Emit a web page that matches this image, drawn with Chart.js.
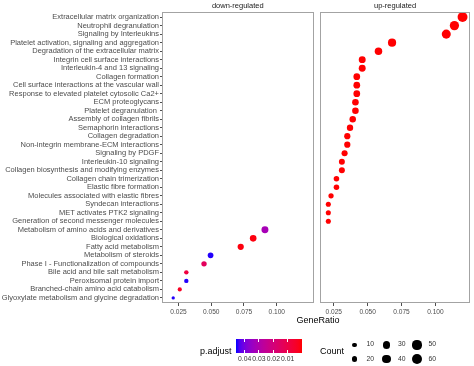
<!DOCTYPE html>
<html>
<head>
<meta charset="utf-8">
<script src="https://cdn.jsdelivr.net/npm/chart.js@4.4.1/dist/chart.umd.min.js"></script>
<style>
  html, body { margin:0; padding:0; background:#fff; }
  body { width:474px; height:366px; position:relative; overflow:hidden; font-family:"Liberation Sans", Arial, sans-serif; }
  canvas { position:absolute; top:0; }
  .t { position:absolute; white-space:nowrap; line-height:1; }
</style>
</head>
<body>
<canvas id="cDown" width="316" height="318" style="left:0"></canvas>
<canvas id="cUp" width="158" height="318" style="left:316px"></canvas>
<div id="legend"></div>
<script>
// ---------------- data ----------------
const categories = [
  "Extracellular matrix organization",
  "Neutrophil degranulation",
  "Signaling by Interleukins",
  "Platelet activation, signaling and aggregation",
  "Degradation of the extracellular matrix",
  "Integrin cell surface interactions",
  "Interleukin-4 and 13 signaling",
  "Collagen formation",
  "Cell surface interactions at the vascular wall",
  "Response to elevated platelet cytosolic Ca2+",
  "ECM proteoglycans",
  "Platelet degranulation ",
  "Assembly of collagen fibrils",
  "Semaphorin interactions",
  "Collagen degradation",
  "Non-integrin membrane-ECM interactions",
  "Signaling by PDGF",
  "Interleukin-10 signaling",
  "Collagen biosynthesis and modifying enzymes",
  "Collagen chain trimerization",
  "Elastic fibre formation",
  "Molecules associated with elastic fibres",
  "Syndecan interactions",
  "MET activates PTK2 signaling",
  "Generation of second messenger molecules",
  "Metabolism of amino acids and derivatives",
  "Biological oxidations",
  "Fatty acid metabolism",
  "Metabolism of steroids",
  "Phase I - Functionalization of compounds",
  "Bile acid and bile salt metabolism",
  "Peroxisomal protein import",
  "Branched-chain amino acid catabolism",
  "Glyoxylate metabolism and glycine degradation"
];
const panelTitles = ["down-regulated", "up-regulated"];

// up-regulated: categories 1..25
const upRatio = [0.120,0.114,0.108,0.068,0.058,0.046,0.046,0.042,0.042,0.042,0.041,0.041,0.039,0.037,0.035,0.035,0.033,0.031,0.031,0.027,0.027,0.023,0.021,0.021,0.021];
const upCount = [60,52,50,40,33,28,28,26,26,26,25,25,24,23,22,22,21,20,20,17,17,15,14,14,14];
const upPadj  = [0.0001,0.0001,0.0001,0.0001,0.0001,0.0001,0.0001,0.0001,0.0001,0.0001,0.0001,0.0001,0.0001,0.0001,0.0001,0.0001,0.0001,0.0001,0.0001,0.0001,0.0001,0.0001,0.0001,0.0001,0.0001];

// down-regulated: categories 26..34
const downRatio = [0.091,0.082,0.0725,0.0495,0.0445,0.031,0.031,0.026,0.021];
const downCount = [28,25,22,18,16,10,10,9,5];
const downPadj  = [0.032,0.001,0.001,0.0455,0.0138,0.0083,0.0455,0.0037,0.0455];

const xTicks = [0.025, 0.050, 0.075, 0.100];
const xTickLabels = ["0.025", "0.050", "0.075", "0.100"];
const pBreaks = [0.04, 0.03, 0.02, 0.01];
const pBreakLabels = ["0.04", "0.03", "0.02", "0.01"];
const countBreaks = [10, 20, 30, 40, 50, 60];

// ---------------- helpers ----------------
const FONT = "Liberation Sans";
const P_MIN = 0, P_MAX = 0.046;
function lin(c){ c/=255; return c<=0.04045? c/12.92 : Math.pow((c+0.055)/1.055,2.4); }
function unlin(c){ c = c<=0.0031308? 12.92*c : 1.055*Math.pow(c,1/2.4)-0.055; return Math.round(Math.max(0,Math.min(1,c))*255); }
function toLab(rgb){
  const r=lin(rgb[0]), g=lin(rgb[1]), b=lin(rgb[2]);
  let X=(0.4124*r+0.3576*g+0.1805*b)/0.95047, Y=(0.2126*r+0.7152*g+0.0722*b), Z=(0.0193*r+0.1192*g+0.9505*b)/1.08883;
  const f=t=> t>0.008856? Math.cbrt(t) : 7.787*t+16/116;
  const fx=f(X), fy=f(Y), fz=f(Z);
  return [116*fy-16, 500*(fx-fy), 200*(fy-fz)];
}
function fromLab(lab){
  const fy=(lab[0]+16)/116, fx=fy+lab[1]/500, fz=fy-lab[2]/200;
  const fi=t=> t*t*t>0.008856? t*t*t : (t-16/116)/7.787;
  const X=0.95047*fi(fx), Y=fi(fy), Z=1.08883*fi(fz);
  const r=3.2406*X-1.5372*Y-0.4986*Z, g=-0.9689*X+1.8758*Y+0.0415*Z, b=0.0557*X-0.2040*Y+1.0570*Z;
  return [unlin(r),unlin(g),unlin(b)];
}
const LAB_RED = toLab([255,0,0]), LAB_BLUE = toLab([0,0,255]);
function pColor(p){
  const t = Math.max(0, Math.min(1, (p-P_MIN)/(P_MAX-P_MIN)));
  const lab = LAB_RED.map((v,i)=> v + (LAB_BLUE[i]-v)*t);
  const c = fromLab(lab);
  return `rgb(${c[0]},${c[1]},${c[2]})`;
}
function sizeR(count){ return (1.2*Math.sqrt(count) + 0.6)/2; }

const panelBorder = {
  id:'panelBorder',
  afterDraw(chart){
    const a = chart.chartArea, ctx = chart.ctx;
    ctx.save();
    ctx.strokeStyle = '#a3a3a3';
    ctx.lineWidth = 1;
    ctx.strokeRect(Math.round(a.left)-0.5, Math.round(a.top)+0.5, Math.round(a.right-a.left)+1, Math.round(a.bottom-a.top)-1);
    ctx.restore();
  }
};

function makeChart(id, title, ratios, counts, padj, offset, xmin, xmax, showY, pad){
  const pts = ratios.map((v,i)=>({x:v, y:offset+i}));
  return new Chart(document.getElementById(id), {
    type:'scatter',
    data:{ datasets:[{
      data:pts,
      pointRadius: counts.map(sizeR),
      pointHoverRadius: counts.map(sizeR),
      backgroundColor: padj.map(pColor),
      borderWidth:0,
      pointBorderWidth:0
    }]},
    options:{
      responsive:false, animation:false, devicePixelRatio:1,
      layout:{ padding: pad },
      events:[],
      plugins:{
        legend:{display:false}, tooltip:{enabled:false},
        title:{ display:true, text:title, fullSize:false, color:'#1a1a1a',
                font:{family:FONT, size:7.5, weight:'normal', lineHeight:1.2}, padding:{top:1,bottom:2} }
      },
      scales:{
        x:{ type:'linear', min:xmin, max:xmax,
            afterBuildTicks(s){ s.ticks = xTicks.map(v=>({value:v})); },
            afterFit(s){ s.height = 15; },
            grid:{ drawOnChartArea:false, drawTicks:true, tickLength:3, color:'#4d4d4d' },
            border:{ display:false },
            ticks:{ color:'#4d4d4d', font:{family:FONT, size:6.6}, padding:2, maxRotation:0,
                    callback:(v,i)=> xTickLabels[i] }
        },
        y:{ type:'linear', reverse:true, min:-0.6, max:categories.length-1+0.6, display:showY,
            afterBuildTicks(s){ s.ticks = categories.map((c,i)=>({value:i})); },
            afterFit(s){ s.width = showY ? 163 : 0; },
            grid:{ drawOnChartArea:false, drawTicks:true, tickLength:3, color:'#4d4d4d' },
            border:{ display:false },
            ticks:{ color:'#4d4d4d', font:{family:FONT, size:7.5}, padding:1, autoSkip:false,
                    callback:(v)=> categories[v] }
        }
      }
    },
    plugins:[panelBorder]
  });
}

makeChart('cDown', panelTitles[0], downRatio, downCount, downPadj, 25, 0.0132, 0.1273, true, {left:0,right:1,top:0,bottom:0});
makeChart('cUp',   panelTitles[1], upRatio,   upCount,   upPadj,   0,  0.0156, 0.1248, false, {left:5,right:2,top:0,bottom:0});

// ---------------- axis title + legends (HTML) ----------------
const L = document.getElementById('legend');
function txt(s, left, top, size, color, center){
  const d = document.createElement('div');
  d.className='t'; d.textContent=s;
  d.style.left=left+'px'; d.style.top=top+'px'; d.style.fontSize=size+'px'; d.style.color=color;
  if(center){ d.style.transform='translateX(-50%)'; }
  L.appendChild(d); return d;
}
txt("GeneRatio", 318, 316, 9, '#000', true);
txt("p.adjust", 200, 347, 9, '#000', false);
txt("Count", 320, 347, 9, '#000', false);

// colour bar
const barL=236, barT=339, barW=66, barH=14;
const bar=document.createElement('div');
const stops=[];
for(let k=0;k<=20;k++){ const p=P_MAX-(P_MAX-P_MIN)*k/20; stops.push(pColor(p)+' '+(k*5)+'%'); }
bar.style.cssText=`position:absolute;left:${barL}px;top:${barT}px;width:${barW}px;height:${barH}px;background:linear-gradient(to right, ${stops.join(',')});`;
L.appendChild(bar);
pBreaks.forEach((p,i)=>{
  const x = barL + (P_MAX-p)/(P_MAX-P_MIN)*barW;
  ['top','bottom'].forEach(side=>{
    const tk=document.createElement('div');
    tk.style.cssText=`position:absolute;left:${x-0.5}px;${side==='top'?'top:'+barT:'top:'+(barT+barH-3)}px;width:1px;height:3px;background:#fff;`;
    L.appendChild(tk);
  });
  txt(pBreakLabels[i], x, 356, 6.8, '#333', true);
});

// size legend
const colX=[354.5, 386.5, 417], labX=[366.5, 398, 428.5], rowY=[345, 359.3];
countBreaks.forEach((c,i)=>{
  const col=Math.floor(i/2), row=i%2, r=sizeR(c);
  const dot=document.createElement('div');
  dot.style.cssText=`position:absolute;left:${colX[col]-r}px;top:${rowY[row]-r}px;width:${2*r}px;height:${2*r}px;border-radius:50%;background:#000;`;
  L.appendChild(dot);
  txt(String(c), labX[col], rowY[row]-3.6, 6.8, '#333', false);
});
</script>
</body>
</html>
